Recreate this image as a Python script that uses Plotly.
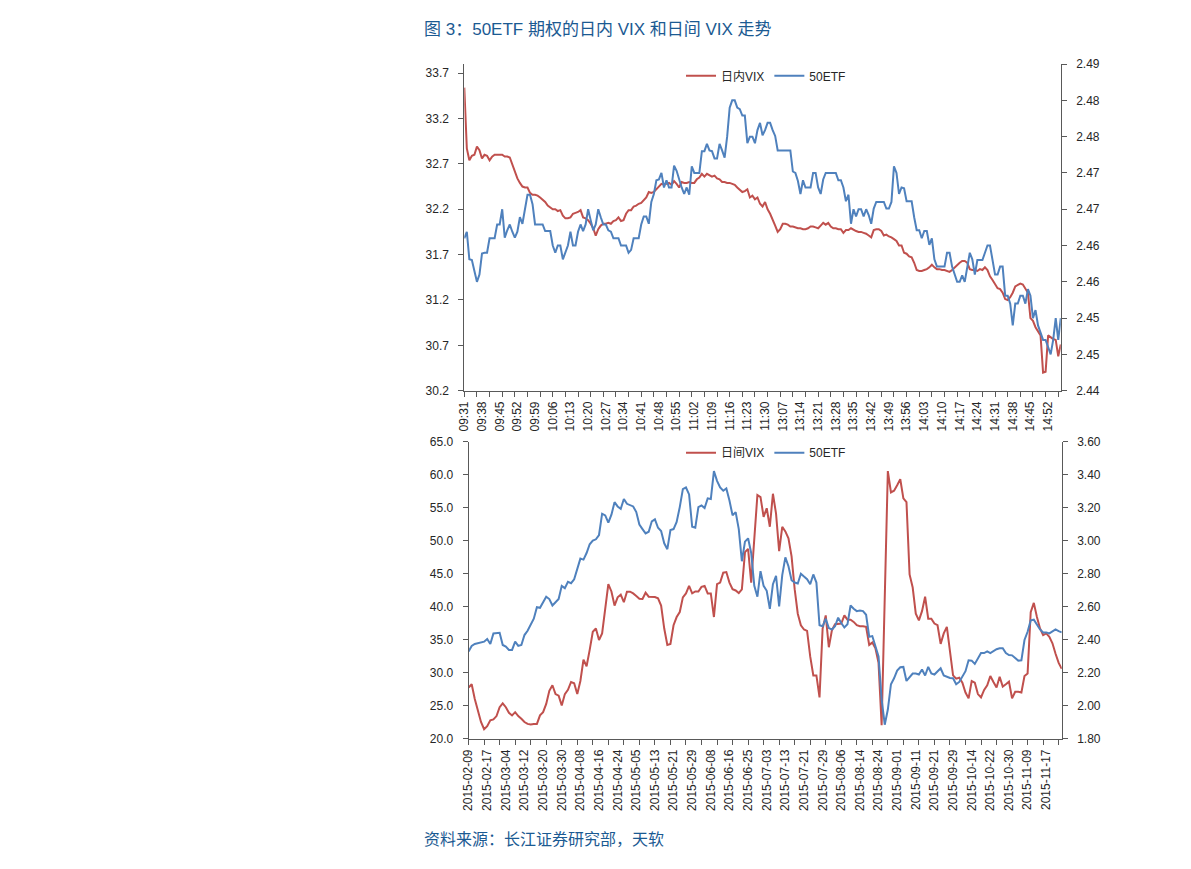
import plotly.graph_objects as go
import pandas as pd

# ---------------- categories ----------------
# intraday minutes: 09:31-11:30, 13:01-14:57
minute_times = [f"{m // 60:02d}:{m % 60:02d}" for m in list(range(571, 691)) + list(range(781, 898))]

holidays_2015 = ['2015-02-18', '2015-02-19', '2015-02-20', '2015-02-23', '2015-02-24',
                 '2015-04-06', '2015-05-01', '2015-06-22', '2015-09-03', '2015-09-04',
                 '2015-10-01', '2015-10-02', '2015-10-05', '2015-10-06', '2015-10-07']
trade_dates = [d.strftime('%Y-%m-%d') for d in pd.bdate_range('2015-02-09', '2015-12-31')
               if d.strftime('%Y-%m-%d') not in holidays_2015][:192]

# ---------------- series values ----------------
vix_intraday = [
    33.54, 32.87, 32.74, 32.79, 32.80, 32.89, 32.85, 32.76, 32.80, 32.79,
    32.74, 32.78, 32.80, 32.80, 32.80, 32.80, 32.78, 32.78, 32.77, 32.69,
    32.60, 32.54, 32.49, 32.45, 32.44, 32.44, 32.38, 32.36, 32.36, 32.35,
    32.33, 32.31, 32.28, 32.24, 32.22, 32.20, 32.20, 32.18, 32.19, 32.13,
    32.10, 32.10, 32.11, 32.15, 32.16, 32.17, 32.19, 32.11, 32.10, 32.08,
    32.04, 31.99, 31.91, 31.98, 32.02, 32.04, 32.04, 32.05, 32.04, 32.07,
    32.08, 32.11, 32.07, 32.08, 32.15, 32.19, 32.19, 32.23, 32.24, 32.26,
    32.27, 32.30, 32.33, 32.39, 32.38, 32.39, 32.42, 32.46, 32.48, 32.47,
    32.48, 32.49, 32.47, 32.51, 32.48, 32.44, 32.50, 32.49, 32.49, 32.50,
    32.49, 32.49, 32.53, 32.55, 32.59, 32.56, 32.59, 32.57, 32.56, 32.57,
    32.54, 32.53, 32.50, 32.50, 32.49, 32.49, 32.48, 32.47, 32.44, 32.42,
    32.39, 32.40, 32.42, 32.33, 32.35, 32.31, 32.33, 32.26, 32.23, 32.28,
    32.20, 32.15, 32.09, 32.02, 31.95, 31.98, 32.04, 32.04, 32.03, 32.01,
    32.01, 32.00, 31.99, 31.99, 31.98, 31.98, 31.99, 32.01, 32.01, 32.00,
    31.99, 32.02, 32.05, 32.03, 32.05, 32.01, 31.99, 31.99, 31.98, 31.98,
    31.94, 31.97, 31.97, 31.99, 31.97, 31.96, 31.95, 31.95, 31.94, 31.93,
    31.91, 31.89, 31.97, 31.98, 31.98, 31.96, 31.91, 31.92, 31.90, 31.89,
    31.87, 31.85, 31.80, 31.80, 31.72, 31.71, 31.68, 31.67, 31.61, 31.53,
    31.52, 31.52, 31.53, 31.54, 31.56, 31.59, 31.56, 31.54, 31.54, 31.53,
    31.53, 31.52, 31.51, 31.53, 31.56, 31.59, 31.61, 31.63, 31.63, 31.61,
    31.54, 31.53, 31.53, 31.52, 31.54, 31.53, 31.56, 31.53, 31.46, 31.42,
    31.38, 31.33, 31.32, 31.28, 31.21, 31.20, 31.23, 31.28, 31.35, 31.37,
    31.38, 31.37, 31.33, 31.28, 31.00, 30.97, 30.90, 30.85, 30.81, 30.40,
    30.41, 30.81, 30.79, 30.77, 30.76, 30.58, 30.71,
]

etf_intraday = [
    2.4610, 2.4619, 2.4581, 2.4580, 2.4565, 2.4550, 2.4560, 2.4589, 2.4590, 2.4590,
    2.4610, 2.4610, 2.4610, 2.4629, 2.4629, 2.4650, 2.4611, 2.4621, 2.4629, 2.4619,
    2.4611, 2.4619, 2.4639, 2.4630, 2.4648, 2.4670, 2.4670, 2.4657, 2.4629, 2.4629,
    2.4629, 2.4629, 2.4620, 2.4620, 2.4620, 2.4600, 2.4590, 2.4600, 2.4600, 2.4581,
    2.4590, 2.4600, 2.4619, 2.4600, 2.4600, 2.4619, 2.4629, 2.4620, 2.4629, 2.4650,
    2.4635, 2.4621, 2.4629, 2.4650, 2.4639, 2.4629, 2.4629, 2.4621, 2.4619, 2.4610,
    2.4610, 2.4610, 2.4600, 2.4600, 2.4600, 2.4590, 2.4594, 2.4610, 2.4610, 2.4610,
    2.4629, 2.4640, 2.4640, 2.4630, 2.4660, 2.4671, 2.4690, 2.4691, 2.4700, 2.4680,
    2.4690, 2.4680, 2.4680, 2.4710, 2.4703, 2.4690, 2.4680, 2.4671, 2.4680, 2.4670,
    2.4709, 2.4700, 2.4700, 2.4700, 2.4730, 2.4730, 2.4740, 2.4731, 2.4730, 2.4720,
    2.4720, 2.4740, 2.4731, 2.4721, 2.4750, 2.4790, 2.4800, 2.4800, 2.4790, 2.4788,
    2.4779, 2.4779, 2.4741, 2.4750, 2.4750, 2.4741, 2.4759, 2.4769, 2.4752, 2.4759,
    2.4769, 2.4769, 2.4759, 2.4751, 2.4731, 2.4731, 2.4731, 2.4731, 2.4731, 2.4731,
    2.4702, 2.4700, 2.4689, 2.4671, 2.4690, 2.4680, 2.4680, 2.4680, 2.4700, 2.4700,
    2.4680, 2.4671, 2.4691, 2.4700, 2.4700, 2.4700, 2.4700, 2.4700, 2.4690, 2.4690,
    2.4680, 2.4661, 2.4670, 2.4630, 2.4650, 2.4640, 2.4650, 2.4650, 2.4640, 2.4650,
    2.4642, 2.4630, 2.4651, 2.4660, 2.4660, 2.4660, 2.4660, 2.4651, 2.4651, 2.4660,
    2.4709, 2.4700, 2.4671, 2.4680, 2.4679, 2.4661, 2.4661, 2.4661, 2.4639, 2.4621,
    2.4621, 2.4610, 2.4620, 2.4620, 2.4601, 2.4610, 2.4581, 2.4571, 2.4571, 2.4571,
    2.4571, 2.4590, 2.4590, 2.4571, 2.4560, 2.4550, 2.4550, 2.4559, 2.4550, 2.4571,
    2.4590, 2.4581, 2.4560, 2.4580, 2.4580, 2.4580, 2.4590, 2.4600, 2.4600, 2.4581,
    2.4560, 2.4560, 2.4571, 2.4571, 2.4531, 2.4531, 2.4520, 2.4490, 2.4520, 2.4520,
    2.4531, 2.4531, 2.4520, 2.4540, 2.4531, 2.4500, 2.4511, 2.4490, 2.4480, 2.4470,
    2.4470, 2.4460, 2.4450, 2.4470, 2.4500, 2.4470, 2.4500,
]

vix_interday = [
    27.75, 28.25, 26.01, 24.27, 22.53, 21.44, 21.89, 22.78, 22.93, 23.43,
    24.77, 25.37, 24.77, 23.92, 23.53, 24.02, 23.43, 23.03, 22.53, 22.24,
    22.14, 22.24, 22.24, 23.53, 24.02, 25.27, 27.25, 28.10, 26.76, 26.51,
    25.02, 26.76, 27.40, 28.59, 28.40, 26.76, 28.74, 31.97, 30.98, 33.46,
    36.19, 36.69, 34.95, 35.95, 39.42, 43.40, 42.30, 40.17, 41.41, 41.81,
    40.67, 42.26, 42.26, 42.01, 41.61, 41.21, 41.16, 42.11, 41.51, 41.51,
    41.46, 41.26, 40.17, 36.69, 34.21, 34.36, 37.19, 38.43, 39.18, 41.41,
    42.01, 43.15, 42.01, 42.30, 42.30, 43.00, 43.15, 42.01, 42.01, 38.43,
    43.40, 43.65, 45.14, 45.24, 43.65, 42.65, 42.45, 42.05, 42.63, 48.25,
    48.75, 43.64, 50.50, 56.90, 56.60, 53.60, 54.90, 52.10, 57.10, 54.10,
    48.40, 52.10, 51.40, 50.35, 47.62, 42.65, 38.93, 37.19, 36.54, 36.34,
    32.47, 29.59, 29.59, 26.26, 36.69, 38.68, 33.86, 36.44, 37.34, 37.44,
    37.44, 38.68, 38.03, 38.03, 37.69, 37.19, 37.04, 37.04, 36.94, 34.21,
    34.56, 33.71, 31.48, 22.04, 41.30, 60.54, 57.31, 57.56, 58.40, 59.29,
    56.41, 55.82, 44.89, 42.90, 38.93, 37.93, 39.32, 41.51, 38.18, 38.18,
    37.44, 37.19, 34.36, 35.95, 36.94, 33.46, 29.59, 29.09, 29.24, 28.49,
    27.00, 26.11, 28.74, 28.49, 26.76, 26.26, 27.40, 28.10, 29.49, 28.59,
    27.75, 29.39, 27.90, 28.25, 28.64, 26.11, 27.10, 27.10, 27.00, 29.49,
    29.89, 39.18, 40.57, 38.43, 36.69, 35.70, 35.95, 35.45, 34.46, 32.87,
    31.48, 30.58,
]

etf_interday = [
    2.329, 2.362, 2.374, 2.378, 2.382, 2.388, 2.404, 2.374, 2.438, 2.442,
    2.442, 2.368, 2.358, 2.338, 2.338, 2.388, 2.362, 2.368, 2.428, 2.454,
    2.493, 2.527, 2.597, 2.593, 2.627, 2.660, 2.646, 2.607, 2.627, 2.646,
    2.726, 2.712, 2.750, 2.742, 2.766, 2.825, 2.891, 2.885, 2.925, 2.978,
    3.000, 3.008, 3.034, 3.163, 3.153, 3.109, 3.157, 3.233, 3.207, 3.193,
    3.252, 3.223, 3.213, 3.207, 3.173, 3.097, 3.070, 3.044, 3.054, 3.117,
    3.129, 3.078, 3.058, 2.984, 2.948, 3.064, 3.070, 3.113, 3.203, 3.312,
    3.322, 3.280, 3.084, 3.078, 3.203, 3.213, 3.197, 3.256, 3.252, 3.421,
    3.362, 3.322, 3.302, 3.316, 3.243, 3.153, 3.173, 3.070, 2.875, 2.994,
    3.014, 2.925, 2.726, 2.660, 2.815, 2.726, 2.696, 2.587, 2.736, 2.786,
    2.601, 2.791, 2.899, 2.845, 2.760, 2.746, 2.740, 2.799, 2.782, 2.766,
    2.736, 2.795, 2.746, 2.487, 2.481, 2.527, 2.470, 2.462, 2.481, 2.533,
    2.501, 2.474, 2.493, 2.607, 2.587, 2.573, 2.577, 2.573, 2.551, 2.418,
    2.422, 2.362, 2.299, 2.040, 1.885, 1.977, 2.130, 2.166, 2.213, 2.233,
    2.235, 2.150, 2.176, 2.195, 2.195, 2.189, 2.219, 2.183, 2.235, 2.195,
    2.189, 2.207, 2.227, 2.183, 2.176, 2.168, 2.166, 2.130, 2.144, 2.176,
    2.209, 2.275, 2.273, 2.253, 2.289, 2.319, 2.319, 2.329, 2.319, 2.332,
    2.342, 2.348, 2.348, 2.319, 2.307, 2.305, 2.289, 2.273, 2.275, 2.398,
    2.448, 2.517, 2.521, 2.493, 2.462, 2.444, 2.444, 2.438, 2.448, 2.462,
    2.452, 2.444,
]

# ---------------- tick labels ----------------
top_left_ticks = [30.2, 30.7, 31.2, 31.7, 32.2, 32.7, 33.2, 33.7]
top_left_labels = ['30.2', '30.7', '31.2', '31.7', '32.2', '32.7', '33.2', '33.7']
top_right_ticks = [2.440, 2.445, 2.450, 2.455, 2.460, 2.465, 2.470, 2.475, 2.480, 2.485]
top_right_labels = ['2.44', '2.45', '2.45', '2.46', '2.46', '2.47', '2.47', '2.48', '2.48', '2.49']

top_label_pos = list(range(0, len(minute_times), 7))
top_label_text = [minute_times[i] for i in top_label_pos]
bot_label_pos = list(range(0, len(trade_dates), 6))
bot_label_text = [trade_dates[i] for i in bot_label_pos]

# ---------------- styles ----------------
RED = '#C0504D'
BLUE = '#4F81BD'
AXIS = '#595959'
TXT = '#262626'
FONT = 'Liberation Sans, Noto Sans CJK SC, sans-serif'
W, H = 1191, 869

def px_x(v):
    return v / W

def px_y(v):
    return 1 - v / H

x_top = list(range(len(minute_times)))
x_bot = list(range(len(trade_dates)))

fig = go.Figure()
fig.add_trace(go.Scatter(x=x_top, y=vix_intraday, name='日内VIX', mode='lines',
                         line=dict(color=RED, width=2), xaxis='x', yaxis='y', legend='legend',
                         customdata=minute_times))
fig.add_trace(go.Scatter(x=x_top, y=etf_intraday, name='50ETF', mode='lines',
                         line=dict(color=BLUE, width=2), xaxis='x', yaxis='y2', legend='legend',
                         customdata=minute_times))
fig.add_trace(go.Scatter(x=x_bot, y=vix_interday, name='日间VIX', mode='lines',
                         line=dict(color=RED, width=2), xaxis='x2', yaxis='y3', legend='legend2',
                         customdata=trade_dates))
fig.add_trace(go.Scatter(x=x_bot, y=etf_interday, name='50ETF', mode='lines',
                         line=dict(color=BLUE, width=2), xaxis='x2', yaxis='y4', legend='legend2',
                         customdata=trade_dates))

common_axis = dict(showgrid=False, zeroline=False, showline=True, linecolor=AXIS, linewidth=1,
                   tickfont=dict(family=FONT, size=12, color=TXT))
y_axis_common = dict(common_axis, ticks='outside', ticklen=5, tickcolor=AXIS, tickwidth=1,
                     ticklabelstandoff=7)
x_tick_font = dict(family=FONT, size=12, color=TXT)

fig.update_layout(
    width=W, height=H,
    margin=dict(l=0, r=0, t=0, b=0),
    paper_bgcolor='white', plot_bgcolor='white',
    font=dict(family=FONT, color=TXT),
    xaxis=dict(common_axis, domain=[px_x(460), px_x(1060)], anchor='y', range=[0, len(minute_times) - 1],
               tickmode='array', tickvals=top_label_pos, ticktext=top_label_text, ticks='',
               tickangle=-90, tickfont=x_tick_font, ticklabelstandoff=5,
               minor=dict(ticks='outside', tickmode='linear', tick0=0, dtick=5, ticklen=5,
                          tickcolor=AXIS, tickwidth=1, showgrid=False)),
    yaxis=dict(y_axis_common, domain=[px_y(390), px_y(58)], anchor='x', range=[30.2, 33.8],
               tickmode='array', tickvals=top_left_ticks, ticktext=top_left_labels),
    yaxis2=dict(y_axis_common, overlaying='y', side='right', anchor='x', range=[2.44, 2.485],
                tickmode='array', tickvals=top_right_ticks, ticktext=top_right_labels),
    xaxis2=dict(common_axis, domain=[px_x(464.3), px_x(1061)], anchor='y3', range=[0, len(trade_dates) - 1],
                tickmode='array', tickvals=bot_label_pos, ticktext=bot_label_text, ticks='',
                tickangle=-90, tickfont=x_tick_font, ticklabelstandoff=5,
                minor=dict(ticks='outside', tickmode='linear', tick0=0, dtick=5, ticklen=5,
                           tickcolor=AXIS, tickwidth=1, showgrid=False)),
    yaxis3=dict(y_axis_common, domain=[px_y(743.7), px_y(441.7)], anchor='x2', range=[20, 65],
                tickmode='linear', tick0=20, dtick=5, tickformat='.1f'),
    yaxis4=dict(y_axis_common, overlaying='y3', side='right', anchor='x2', range=[1.8, 3.6],
                tickmode='linear', tick0=1.8, dtick=0.2, tickformat='.2f'),
    legend=dict(orientation='h', x=px_x(678), y=px_y(70), xanchor='left', yanchor='middle',
                bgcolor='rgba(0,0,0,0)', font=dict(family=FONT, size=12, color=TXT),
                itemwidth=30, tracegroupgap=0),
    legend2=dict(orientation='h', x=px_x(678), y=px_y(453), xanchor='left', yanchor='middle',
                 bgcolor='rgba(0,0,0,0)', font=dict(family=FONT, size=12, color=TXT),
                 itemwidth=30, tracegroupgap=0),
    annotations=[
        dict(text='图 3：50ETF 期权的日内 VIX 和日间 VIX 走势', xref='paper', yref='paper',
             x=px_x(417), y=px_y(23), xanchor='left', yanchor='middle', showarrow=False,
             font=dict(family=FONT, size=17, color='#1B5A92')),
        dict(text='资料来源：长江证券研究部，天软', xref='paper', yref='paper',
             x=px_x(417), y=px_y(846), xanchor='left', yanchor='middle', showarrow=False,
             font=dict(family=FONT, size=16, color='#1B5A92')),
    ],
)

fig.write_html('out.html')
